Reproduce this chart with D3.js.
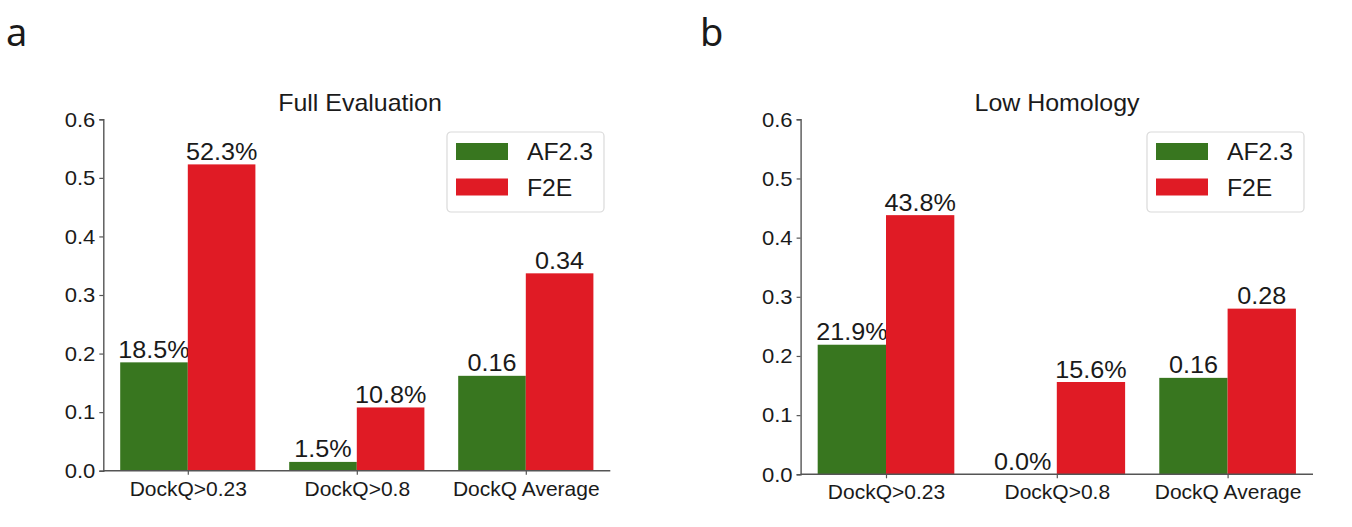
<!DOCTYPE html>
<html>
<head>
<meta charset="utf-8">
<script src="https://cdn.jsdelivr.net/npm/d3@7"></script>
<style>
  body { margin: 0; background: #fff; }
  svg text { font-family: "Liberation Sans", Arial, sans-serif; fill: #1a1a1a; }
</style>
</head>
<body>
<div id="viz"></div>
<script>
const categories = ['DockQ>0.23', 'DockQ>0.8', 'DockQ Average'];
const seriesNames = ['AF2.3', 'F2E'];
const seriesColors = ['#38761f', '#e01b25'];
const yTicks = [0, 0.1, 0.2, 0.3, 0.4, 0.5, 0.6];

// panel a
const fullAF = [0.185, 0.015, 0.162];
const fullF2E = [0.523, 0.108, 0.337];
const fullAFLabels = ['18.5%', '1.5%', '0.16'];
const fullF2ELabels = ['52.3%', '10.8%', '0.34'];

// panel b
const lowAF = [0.219, 0.0, 0.163];
const lowF2E = [0.438, 0.156, 0.280];
const lowAFLabels = ['21.9%', '0.0%', '0.16'];
const lowF2ELabels = ['43.8%', '15.6%', '0.28'];

const W = 1352, H = 527;

const svg = d3.select('#viz').append('svg')
  .attr('width', W)
  .attr('height', H);

const drawPanel = (p) => {
  const g = svg.append('g');

  const x = d3.scaleLinear().domain([-0.5, 2.5]).range([p.left, p.right]);
  const y = d3.scaleLinear().domain([0, 0.6]).range([p.bottom, p.top]);
  const barW = x(0.4) - x(0);

  const series = [p.af, p.f2e];
  const labels = [p.afLabels, p.f2eLabels];

  // BARS
  series.forEach((vals, s) => {
    g.selectAll(null)
      .data(vals)
      .enter()
      .append('rect')
      .attr('x', (d, i) => x(i) + (s === 0 ? -barW : 0))
      .attr('y', d => y(d))
      .attr('width', barW)
      .attr('height', d => y(0) - y(d))
      .attr('fill', seriesColors[s]);

    // value labels
    g.selectAll(null)
      .data(vals)
      .enter()
      .append('text')
      .attr('transform', (d, i) => {
        const cx = x(i) + (s === 0 ? -barW / 2 : barW / 2);
        return `translate(${cx},${y(d) - 4.5}) scale(1.05,1)`;
      })
      .attr('text-anchor', 'middle')
      .attr('font-size', '24px')
      .text((d, i) => labels[s][i]);
  });

  // AXES
  const yAxis = g.append('g')
    .attr('transform', `translate(${p.left},0)`)
    .call(d3.axisLeft(y).tickValues(yTicks).tickFormat(d3.format('.1f')).tickSize(4).tickPadding(4));

  const xAxis = g.append('g')
    .attr('transform', `translate(0,${p.bottom})`)
    .call(d3.axisBottom(x).tickValues([0, 1, 2]).tickFormat(i => categories[i]).tickSize(4).tickPadding(6));

  [yAxis, xAxis].forEach(a => {
    a.select('.domain').attr('stroke', '#555').attr('stroke-width', 1.4);
    a.selectAll('.tick line').attr('stroke', '#555').attr('stroke-width', 1.2);
    a.selectAll('.tick text')
      .attr('font-size', '21px')
      .attr('fill', '#1a1a1a')
      .attr('font-family', '"Liberation Sans", Arial, sans-serif');
  });
  yAxis.selectAll('.tick text').attr('transform', 'scale(1.05,1)').attr('x', -8 / 1.05);
  xAxis.selectAll('.tick text').attr('transform', 'scale(1.0,1)');
  xAxis.select('.domain').attr('d', `M${p.left},0H${p.right}`);

  // TITLE
  g.append('text')
    .attr('transform', `translate(${p.titleX},111) scale(1.04,1)`)
    .attr('text-anchor', 'middle')
    .attr('font-size', '24px')
    .text(p.title);

  // PANEL LETTER
  g.append('text')
    .attr('x', p.letterX)
    .attr('y', 46)
    .attr('font-size', '38px')
    .style('font-family', '"Noto Sans", "Open Sans", sans-serif')
    .text(p.letter);

  // LEGEND
  const lg = g.append('g').attr('transform', `translate(${p.legendRight - 157},132)`);
  lg.append('rect')
    .attr('width', 157)
    .attr('height', 80)
    .attr('rx', 4)
    .attr('fill', '#fff')
    .attr('stroke', '#dadada')
    .attr('stroke-width', 1.2);

  seriesNames.forEach((name, s) => {
    lg.append('rect')
      .attr('x', 9)
      .attr('y', 11 + s * 35.5)
      .attr('width', 52)
      .attr('height', 17)
      .attr('fill', seriesColors[s]);
    lg.append('text')
      .attr('transform', `translate(80,${28 + s * 35.5}) scale(1.03,1)`)
      .attr('font-size', '24px')
      .text(name);
  });
};

drawPanel({
  left: 103.3, right: 610.3, top: 119.3, bottom: 470.7,
  af: fullAF, f2e: fullF2E, afLabels: fullAFLabels, f2eLabels: fullF2ELabels,
  title: 'Full Evaluation', titleX: 360, letter: 'a', letterX: 6, legendRight: 604
});

drawPanel({
  left: 800.6, right: 1313, top: 119.3, bottom: 474.3,
  af: lowAF, f2e: lowF2E, afLabels: lowAFLabels, f2eLabels: lowF2ELabels,
  title: 'Low Homology', titleX: 1057, letter: 'b', letterX: 700, legendRight: 1304
});
</script>
</body>
</html>
